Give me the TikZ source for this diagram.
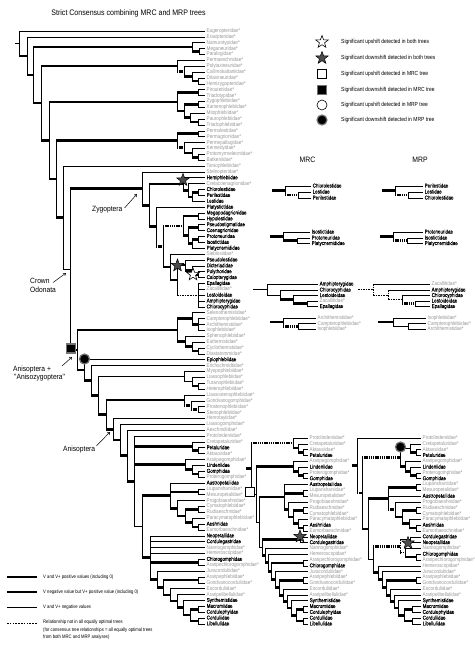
\documentclass[tikz,border=0pt]{standalone}
\usepackage{fontspec}
\setmainfont{Liberation Sans}
\newfontfamily\fA{Liberation Sans}[FakeStretch=0.84]
\newfontfamily\fAb{Liberation Sans}[FakeStretch=0.82,FakeBold=0.35]
\newfontfamily\fB{Liberation Sans}[FakeStretch=0.88]
\usetikzlibrary{shapes.geometric,arrows.meta}
\definecolor{fossil}{gray}{0.6}
\tikzset{
 vl/.style={line width=0.45pt},
 vd/.style={line width=0.55pt,dash pattern=on 1.6pt off 1pt},
 tn/.style={line width=0.55pt},
 md/.style={line width=1.3pt},
 tk/.style={line width=2.6pt},
 dk/.style={line width=2.6pt,dash pattern=on 1.3pt off 0.9pt},
 dn/.style={line width=0.6pt,dash pattern=on 1.6pt off 1pt},
 lab/.style={font={\fA\fontsize{5.5}{5.5}\selectfont},inner sep=0pt,anchor=west,text height=4pt,text depth=1pt},
 fos/.style={text=fossil},
 ext/.style={text=black,font={\fAb\fontsize{5.5}{5.5}\selectfont}},
 stf/.style={star,star points=5,star point ratio=2.4,minimum size=13pt,inner sep=0pt,draw=black,fill=black!70,line width=0.5pt},
 sto/.style={star,star points=5,star point ratio=2.4,minimum size=13pt,inner sep=0pt,draw=black,fill=white,line width=0.6pt},
 sqo/.style={rectangle,minimum size=9pt,inner sep=0pt,draw=black,fill=white,line width=0.6pt},
 sqf/.style={rectangle,minimum size=9pt,inner sep=0pt,draw=black!55,fill=black,line width=1.2pt},
 cio/.style={circle,minimum size=10pt,inner sep=0pt,draw=black,fill=white,line width=0.6pt},
 cif/.style={circle,minimum size=10pt,inner sep=0pt,draw=black!55,fill=black,line width=1.2pt},
 ann/.style={font={\fB\fontsize{7.6}{8.6}\selectfont},inner sep=0pt,align=left},
 arr/.style={line width=0.5pt,-{Straight Barb[length=2.2pt,width=3.2pt]}},
 lgt/.style={font={\fA\fontsize{5}{6.5}\selectfont},anchor=west,inner sep=0pt,align=left},
 tlt/.style={font={\fA\fontsize{5.9}{6}\selectfont},anchor=west,inner sep=0pt},
 hd/.style={font={\fB\fontsize{7.8}{8}\selectfont},inner sep=0pt},
}
\newcommand\Lf[5]{%
  \coordinate (#1) at (#2,-#3);%
  \expandafter\xdef\csname ty@#1\endcsname{#3}%
  \node[lab,#4] (#1t) at ([xshift=1.5pt]#1) {#5};}
\newcommand\ML[3]{\pgfmathsetmacro\yy{31+(#1-1)*5.87}\Lf{m#1}{205}{\yy}{#2}{#3}}
\newcommand\KL[3]{\pgfmathsetmacro\yy{438+(#1-1)*5.81}\Lf{k#1}{308}{\yy}{#2}{#3}}
\newcommand\RL[3]{\pgfmathsetmacro\yy{438+(#1-1)*5.81}\Lf{r#1}{421}{\yy}{#2}{#3}}
\newcommand\Nd[5][vl]{%
  \edef\ya{\csname ty@#4\endcsname}\edef\yb{\csname ty@#5\endcsname}%
  \pgfmathsetmacro\yy{(\ya+\yb)/2}%
  \expandafter\xdef\csname ty@#2\endcsname{\yy}%
  \coordinate (#2) at (#3,-\yy);%
  \draw[#1] (#2 |- #4) -- (#2 |- #5);}
\newcommand\Br[3]{\foreach \ch in {#3} {\draw[#1] (#2 |- \ch) -- (\ch);}}
\begin{document}
\begin{tikzpicture}[x=1pt,y=1pt]
\useasboundingbox (0,0) rectangle (474,-647);
\fill[white] (0,0) rectangle (474,-647);
\node[font={\fB\fontsize{8}{8}\selectfont},inner sep=0pt] (title) at (128.5,-13) {Strict Consensus combining MRC and MRP trees};
% ---------------- main tree leaves
\ML{1}{fos}{Eugeropteridae*}
\ML{2}{fos}{Erasipteridae*}
\ML{3}{fos}{Namurotypidae*}
\ML{4}{fos}{Meganeuridae*}
\ML{5}{fos}{Paralogidae*}
\ML{6}{fos}{Permaeschnidae*}
\ML{7}{fos}{Polytaxineuridae*}
\ML{8}{fos}{Callimokaltaniidae*}
\ML{9}{fos}{Ditaxineuridae*}
\ML{10}{fos}{Hemizygopteridae*}
\ML{11}{fos}{Piroutetiidae*}
\ML{12}{fos}{Triadotypidae*}
\ML{13}{fos}{Zygophlebiidae*}
\ML{14}{fos}{Xamenophlebiidae*}
\ML{15}{fos}{Mitophlebiidae*}
\ML{16}{fos}{Paurophlebiidae*}
\ML{17}{fos}{Triadophlebiidae*}
\ML{18}{fos}{Permolestidae*}
\ML{19}{fos}{Permagrionidae*}
\ML{20}{fos}{Permepallagidae*}
\ML{21}{fos}{Kennedyidae*}
\ML{22}{fos}{Protomyrmeleontidae*}
\ML{23}{fos}{Batkeniidae*}
\ML{24}{fos}{Tarsophlebiidae*}
\ML{25}{fos}{Steleopteridae*}
\ML{26}{ext}{Hemiphlebiidae}
\ML{27}{fos}{Cretacoenagrionidae*}
\ML{28}{ext}{Chlorolestidae}
\ML{29}{ext}{Perilestidae}
\ML{30}{ext}{Lestidae}
\ML{31}{ext}{Platystictidae}
\ML{32}{ext}{Megapodagrionidae}
\ML{33}{ext}{Hypolestidae}
\ML{34}{ext}{Pseudostigmatidae}
\ML{35}{ext}{Coenagrionidae}
\ML{36}{ext}{Protoneuridae}
\ML{37}{ext}{Isostictidae}
\ML{38}{ext}{Platycnemididae}
\ML{39}{fos}{Sieblosiidae*}
\ML{40}{ext}{Pseudolestidae}
\ML{41}{ext}{Dicteriadidae}
\ML{42}{ext}{Polythoridae}
\ML{43}{ext}{Calopterygidae}
\ML{44}{ext}{Epallagidae}
\ML{45}{fos}{Zacallitidae*}
\ML{46}{ext}{Lestoideidae}
\ML{47}{ext}{Amphipterygidae}
\ML{48}{ext}{Chlorocyphidae}
\ML{49}{fos}{Selenothemistidae*}
\ML{50}{fos}{Campterophlebiidae*}
\ML{51}{fos}{Archithemistidae*}
\ML{52}{fos}{Isophlebiidae*}
\ML{53}{fos}{Sphenophlebiidae*}
\ML{54}{fos}{Euthemistidae*}
\ML{55}{fos}{Cyclothemistidae*}
\ML{56}{fos}{Diastatommidae*}
\ML{57}{ext}{Epiophlebiidae}
\ML{58}{fos}{Erichschmidtidae*}
\ML{59}{fos}{Myopophlebiidae*}
\ML{60}{fos}{Liassophlebiidae*}
\ML{61}{fos}{Turanophlebiidae*}
\ML{62}{fos}{Heterophlebiidae*}
\ML{63}{fos}{Liassostenophlebiidae*}
\ML{64}{fos}{Gondvanogomphidae*}
\ML{65}{fos}{Prostenophlebiidae*}
\ML{66}{fos}{Stenophlebiidae*}
\ML{67}{fos}{Henrotayiidae*}
\ML{68}{fos}{Liassogomphidae*}
\ML{69}{fos}{Aeschnidiidae*}
\ML{70}{fos}{Protolindeniidae*}
\ML{71}{fos}{Cretapetaluridae*}
\ML{72}{ext}{Petaluridae}
\ML{73}{fos}{Aktassiidae*}
\ML{74}{fos}{Araripegomphidae*}
\ML{75}{ext}{Lindeniidae}
\ML{76}{ext}{Gomphidae}
\ML{77}{fos}{Proterogomphidae*}
\ML{78}{ext}{Austropetaliidae}
\ML{79}{fos}{Liupanshaniidae*}
\ML{80}{fos}{Mesuropetalidae*}
\ML{81}{fos}{Progobiaeshnidae*}
\ML{82}{fos}{Cymatophlebiidae*}
\ML{83}{fos}{Rudiaeschnidae*}
\ML{84}{fos}{Paracymatophlebiidae*}
\ML{85}{ext}{Aeshnidae}
\ML{86}{fos}{Eumorbaeschnidae*}
\ML{87}{ext}{Neopetaliidae}
\ML{88}{ext}{Cordulegastridae}
\ML{89}{fos}{Nannogomphidae*}
\ML{90}{fos}{Hemeroscopidae*}
\ML{91}{ext}{Chlorogomphidae}
\ML{92}{fos}{Araripechlorogomphidae*}
\ML{93}{fos}{Juracorduliidae*}
\ML{94}{fos}{Araripephlebiidae*}
\ML{95}{fos}{Gondvanocorduliidae*}
\ML{96}{fos}{Eocorduliidae*}
\ML{97}{fos}{Araripelibellulidae*}
\ML{98}{ext}{Synthemistidae}
\ML{99}{ext}{Macromiidae}
\ML{100}{ext}{Cordulephyidae}
\ML{101}{ext}{Corduliidae}
\ML{102}{ext}{Libellulidae}
% ---------------- main tree internal nodes
\Nd{nmp}{199}{m4}{m5} \Br{tn}{nmp}{m4,m5}
\Nd{cnam}{192}{m3}{nmp} \Br{tn}{cnam}{m3} \Br{tk}{cnam}{nmp}
\Nd{np4}{198}{m9}{m10} \Br{tn}{np4}{m9,m10}
\Nd{np3}{192}{m8}{np4} \Br{tn}{np3}{m8} \Br{tk}{np3}{np4}
\Nd{np2}{184}{m7}{np3} \Br{tn}{np2}{m7} \Br{tk}{np2}{np3}
\Nd{cperm}{177}{m6}{np2} \Br{tn}{cperm}{m6} \Br{dk}{cperm}{np2}
\Nd{nt1}{198}{m11}{m12} \Br{tn}{nt1}{m11,m12}
\Nd{nzx}{198}{m13}{m14} \Br{tn}{nzx}{m13,m14}
\Nd{npt}{198}{m16}{m17} \Br{tn}{npt}{m16,m17}
\Nd{nt3}{190}{m15}{npt} \Br{tn}{nt3}{m15} \Br{tk}{nt3}{npt}
\Nd{nt2}{184}{nzx}{nt3} \Br{tk}{nt2}{nzx,nt3}
\Nd{ctri}{177}{nt1}{nt2} \Br{tk}{ctri}{nt1,nt2}
\Nd{npm1}{198}{m18}{m19} \Br{tn}{npm1}{m18,m19}
\Nd{npm4}{198}{m22}{m23} \Br{tn}{npm4}{m22,m23}
\Nd{npm3}{192}{m21}{npm4} \Br{tn}{npm3}{m21} \Br{tk}{npm3}{npm4}
\Nd{npm2}{184}{m20}{npm3} \Br{tn}{npm2}{m20} \Br{tk}{npm2}{npm3}
\Nd{cpermo}{177}{npm1}{npm2} \Br{tk}{cpermo}{npm1} \Br{dk}{cpermo}{npm2}
% Zygoptera
\Nd{ncp}{198}{m28}{m29} \Br{tn}{ncp}{m28,m29}
\Nd{nzc}{192}{ncp}{m30} \Br{tk}{nzc}{ncp} \Br{tn}{nzc}{m30}
\Nd{nzb}{188}{m27}{nzc} \Br{tn}{nzb}{m27} \Br{tk}{nzb}{nzc}
\Nd{nza}{183}{m26}{nzb} \Br{tn}{nza}{m26} \Br{tk}{nza}{nzb}
\Nd{nmh}{198}{m32}{m33} \Br{tn}{nmh}{m32,m33}
\Nd{npc}{198}{m34}{m35} \Br{tn}{npc}{m34,m35}
\Nd{npi}{198}{m36}{m37} \Br{tn}{npi}{m36,m37}
\Nd{nzg}{192}{npi}{m38} \Br{tk}{nzg}{npi} \Br{tn}{nzg}{m38}
\Nd{nzf}{188}{npc}{nzg} \Br{tk}{nzf}{npc,nzg}
\Nd{nzd}{183}{nmh}{nzf} \Br{tk}{nzd}{nmh,nzf}
\Nd{nzk}{198}{m42}{m43} \Br{tn}{nzk}{m42,m43}
\Nd{nzj}{192}{m41}{nzk} \Br{tn}{nzj}{m41} \Br{tk}{nzj}{nzk}
\Nd{nzi}{185}{m40}{nzj} \Br{tn}{nzi}{m40} \Br{tk}{nzi}{nzj}
\Nd{nep}{198}{m44}{m48} \Br{tn}{nep}{m44,m45,m46,m47,m48}
\Nd{nzh}{177}{nzi}{nep} \Br{tk}{nzh}{nzi} \Br{dn}{nzh}{nep}
\Nd{nze}{170}{m39}{nzh} \Br{tn}{nze}{m39} \Br{tk}{nze}{nzh}
\Nd{nz3}{163}{nzd}{nze} \Br{dk}{nz3}{nzd} \Br{tk}{nz3}{nze}
\Nd{nz2}{156}{m31}{nz3} \Br{tn}{nz2}{m31} \Br{dk}{nz2}{nz3}
\Nd{nz}{149}{nza}{nz2} \Br{tk}{nz}{nza,nz2}
\Nd{nzs}{142}{m25}{nz} \Br{tn}{nzs}{m25} \Br{tk}{nzs}{nz}
% Isophlebioids
\Nd{nisb}{198}{m50}{m52} \Br{tn}{nisb}{m50,m51,m52}
\Nd{nisa}{192}{m49}{nisb} \Br{tn}{nisa}{m49} \Br{tk}{nisa}{nisb}
\Nd{nspc}{198}{m55}{m56} \Br{tn}{nspc}{m55,m56}
\Nd{nspb}{192}{m54}{nspc} \Br{tn}{nspb}{m54} \Br{tk}{nspb}{nspc}
\Nd{nspa}{185}{m53}{nspb} \Br{tn}{nspa}{m53} \Br{tk}{nspa}{nspb}
\Nd{ciso}{177}{nisa}{nspa} \Br{tk}{ciso}{nisa,nspa}
% Heterophlebioids / Stenophlebioids
\Nd{nh3}{198}{m61}{m62} \Br{tn}{nh3}{m61,m62}
\Nd{nh2}{192}{m60}{nh3} \Br{tn}{nh2}{m60} \Br{tk}{nh2}{nh3}
\Nd{chet}{184}{m59}{nh2} \Br{tn}{chet}{m59,nh2}
\Nd{ns3}{198}{m65}{m66} \Br{tn}{ns3}{m65,m66}
\Nd{ns2}{191}{m64}{ns3} \Br{tn}{ns2}{m64} \Br{dk}{ns2}{ns3}
\Nd{csten}{184}{m63}{ns2} \Br{tn}{csten}{m63} \Br{dk}{csten}{ns2}
% Anisoptera
\Nd{npa}{198}{m72}{m73} \Br{tn}{npa}{m72,m73}
\Nd{cpet}{192}{m71}{npa} \Br{tn}{cpet}{m71} \Br{tk}{cpet}{npa}
\Nd{ng3}{198}{m76}{m77} \Br{tn}{ng3}{m76,m77}
\Nd{ng2}{192}{m75}{ng3} \Br{tn}{ng2}{m75} \Br{tk}{ng2}{ng3}
\Nd{cgom}{185}{m74}{ng2} \Br{tn}{cgom}{m74} \Br{tk}{cgom}{ng2}
\Nd{nlm}{198}{m79}{m80} \Br{tn}{nlm}{m79,m80}
\Nd{ncr}{198}{m82}{m83} \Br{tn}{ncr}{m82,m83}
\Nd{na4}{198}{m85}{m86} \Br{tn}{na4}{m85,m86}
\Nd{na3}{192}{m84}{na4} \Br{tn}{na3}{m84} \Br{tk}{na3}{na4}
\Nd{na2}{185}{ncr}{na3} \Br{tk}{na2}{ncr,na3}
\Nd{naesh}{177}{m81}{na2} \Br{tn}{naesh}{m81} \Br{tk}{naesh}{na2}
\Nd{caus}{170}{m78}{naesh} \Br{tn}{caus}{m78} \Br{tk}{caus}{nlm,naesh}
\Nd{nchl}{198}{m91}{m92} \Br{tn}{nchl}{m91,m92}
\Nd{nag}{198}{m94}{m95} \Br{tn}{nag}{m94,m95}
\Nd{nmc}{198}{m99}{m100} \Br{tn}{nmc}{m99,m100}
\Nd{ncl}{198}{m101}{m102} \Br{tn}{ncl}{m101,m102}
\Nd{nl6}{190}{nmc}{ncl} \Br{tk}{nl6}{nmc,ncl}
\Nd{nl5}{183}{m98}{nl6} \Br{tn}{nl5}{m98} \Br{tk}{nl5}{nl6}
\Nd{nl4}{177}{m97}{nl5} \Br{tn}{nl4}{m97} \Br{tk}{nl4}{nl5}
\Nd{nl3}{170}{m96}{nl4} \Br{tn}{nl3}{m96} \Br{tk}{nl3}{nl4}
\Nd{nl2}{163}{nag}{nl3} \Br{tk}{nl2}{nag,nl3}
\Nd{nl1}{157}{m93}{nl2} \Br{tn}{nl1}{m93} \Br{tk}{nl1}{nl2}
\Nd{nl0}{150}{m87}{nl1} \Br{tn}{nl0}{m87,m88,m89,m90} \Br{tk}{nl0}{nchl,nl1}
\Nd{nrest}{142}{caus}{nl0} \Br{tk}{nrest}{caus,nl0}
\Nd{n16}{134}{m70}{nrest} \Br{tn}{n16}{m70,nrest} \Br{tk}{n16}{cpet,cgom}
\Nd{n15}{127}{m69}{n16} \Br{tn}{n15}{m69} \Br{tk}{n15}{n16}
\Nd{n14}{120}{m68}{n15} \Br{tn}{n14}{m68} \Br{tk}{n14}{n15}
\Nd{n13}{113}{m67}{n14} \Br{tn}{n13}{m67} \Br{tk}{n13}{n14}
\Nd{n12}{106}{csten}{n13} \Br{tk}{n12}{csten,n13}
\Nd{n11}{98}{chet}{n12} \Br{tn}{n11}{chet} \Br{tk}{n11}{n12}
\Nd{n10}{91}{m58}{n11} \Br{tn}{n10}{m58} \Br{tk}{n10}{n11}
\Nd{n9}{84}{m57}{n10} \Br{tn}{n9}{m57} \Br{tk}{n9}{n10}
\Nd{n8}{77}{ciso}{n9} \Br{tk}{n8}{ciso,n9}
\Nd{n7}{70}{nzs}{n8} \Br{tk}{n7}{nzs,n8}
\Nd{n6}{63}{m24}{n7} \Br{tn}{n6}{m24,n7}
\Nd{n5}{56}{cpermo}{n6} \Br{tk}{n5}{cpermo,n6}
\Nd{n4}{49}{ctri}{n5} \Br{tk}{n4}{ctri,n5}
\Nd{n3}{41}{cperm}{n4} \Br{tk}{n3}{cperm,n4}
\Nd{n2}{33}{cnam}{n3} \Br{tk}{n2}{cnam,n3}
\Nd{n1}{27}{m2}{n2} \Br{tn}{n1}{m2} \Br{tk}{n1}{n2}
\Nd{r0}{19}{m1}{n1} \Br{tn}{r0}{m1} \Br{tk}{r0}{n1}
\coordinate (r0s) at ([xshift=-4pt]r0); \draw[tn] (r0s) -- (r0);
% markers on main tree
\node[stf] (mk1) at (183,-180) {};
\node[stf] (mk2) at (177.5,-265.5) {};
\node[sto] (mk3) at (193,-274.5) {};
\node[sqf] (mk4) at (71,-348.5) {};
\node[cif] (mk5) at (84.5,-359) {};
% annotations
\node[ann,anchor=west] (zyg) at (92,-210) {Zygoptera};
\coordinate (zygtip) at (137,-194);
\draw[arr] ([xshift=2pt,yshift=2pt]zyg.east) -- (zygtip);
\node[ann,anchor=west] (crown) at (30,-285.5) {Crown\\Odonata};
\coordinate (crowntip) at (66,-273);
\draw[arr] ([xshift=-3pt,yshift=3pt]crown.east) -- (crowntip);
\node[ann,anchor=west] (anz) at (13,-373.5) {Anisoptera +\\\hspace*{1pt}"Anisozygoptera"};
\coordinate (anztip) at (72,-357);
\coordinate (anzfoot) at (62,-366);
\draw[arr] (anzfoot) -- (anztip);
\node[ann,anchor=west] (anis) at (63,-450) {Anisoptera};
\coordinate (anistip) at (110,-432);
\draw[arr] ([xshift=1pt,yshift=4pt]anis.east) -- (anistip);
% ---------------- legend top right
\node[sto] (lg1) at (322,-42) {}; \node[tlt] (lg1t) at (341,-42) {Significant upshift detected in both trees};
\node[stf] (lg2) at (322,-58) {}; \node[tlt] (lg2t) at (341,-58) {Significant downshift detected in both trees};
\node[sqo] (lg3) at (322,-73.5) {}; \node[tlt] (lg3t) at (341,-73.5) {Significant upshift detected in MRC tree};
\node[sqf] (lg4) at (322,-90) {}; \node[tlt] (lg4t) at (341,-90) {Significant downshift detected in MRC tree};
\node[cio] (lg5) at (322,-105) {}; \node[tlt] (lg5t) at (341,-105) {Significant upshift detected in MRP tree};
\node[cif] (lg6) at (322,-120) {}; \node[tlt] (lg6t) at (341,-120) {Significant downshift detected in MRP tree};
% ---------------- legend bottom left
\coordinate (la1) at (7,-577); \coordinate (lb1) at (37,-577); \draw[tk] (la1) -- (lb1);
\node[lgt] (lt1) at (43,-577) {V and V+ positive values (including 0)};
\coordinate (la2) at (7,-592); \coordinate (lb2) at (37,-592); \draw[md] (la2) -- (lb2);
\node[lgt] (lt2) at (43,-592) {V negative value but V+ positive value (including 0)};
\coordinate (la3) at (7,-607); \coordinate (lb3) at (37,-607); \draw[tn] (la3) -- (lb3);
\node[lgt] (lt3) at (43,-607) {V and V+ negative values};
\coordinate (la4) at (7,-623); \coordinate (lb4) at (37,-623); \draw[line width=0.8pt,dash pattern=on 1.6pt off 1.2pt] (la4) -- (lb4);
\node[lgt,anchor=north west] (lt4) at (43,-620) {Relationship not in all equally optimal trees\\[1.6pt](for consensus tree relationships = all equally optimal trees\\from both MRC and MRP analyses)};
% ---------------- headings of alternative topologies
\node[hd] (hmrc) at (307.5,-160) {MRC};
\node[hd] (hmrp) at (420,-160) {MRP};
% inset 1
\Lf{ia11}{311}{186}{ext}{Chlorolestidae}
\Lf{ia12}{311}{192}{ext}{Lestidae}
\Lf{ia13}{311}{198}{ext}{Perilestidae}
\Nd{ia1p}{298}{ia12}{ia13} \Br{tn}{ia1p}{ia12,ia13}
\Nd{ia1}{285}{ia11}{ia1p} \Br{tn}{ia1}{ia11} \Br{dk}{ia1}{ia1p}
\coordinate (ia1s) at ([xshift=-13pt]ia1); \draw[tk] (ia1s) -- (ia1);
\Lf{ib11}{423}{186}{ext}{Perilestidae}
\Lf{ib12}{423}{192}{ext}{Lestidae}
\Lf{ib13}{423}{198}{ext}{Chlorolestidae}
\Nd{ib1p}{408}{ib12}{ib13} \Br{tn}{ib1p}{ib12,ib13}
\Nd{ib1}{395}{ib11}{ib1p} \Br{tn}{ib1}{ib11} \Br{dk}{ib1}{ib1p}
\coordinate (ib1s) at ([xshift=-13pt]ib1); \draw[tk] (ib1s) -- (ib1);
% inset 2
\Lf{ia21}{310}{232}{ext}{Isostictidae}
\Lf{ia22}{310}{238}{ext}{Protoneuridae}
\Lf{ia23}{310}{243.5}{ext}{Platycnemididae}
\Nd{ia2p}{297}{ia22}{ia23} \Br{tn}{ia2p}{ia22,ia23}
\Nd{ia2}{283}{ia21}{ia2p} \Br{tn}{ia2}{ia21} \Br{tk}{ia2}{ia2p}
\coordinate (ia2s) at ([xshift=-13pt]ia2); \draw[tk] (ia2s) -- (ia2);
\Lf{ib21}{423}{232}{ext}{Protoneuridae}
\Lf{ib22}{423}{238}{ext}{Isostictidae}
\Lf{ib23}{423}{243.5}{ext}{Platycnemididae}
\Nd{ib2p}{407}{ib22}{ib23} \Br{tn}{ib2p}{ib22,ib23}
\Nd{ib2}{393}{ib21}{ib2p} \Br{tn}{ib2}{ib21} \Br{dk}{ib2}{ib2p}
\coordinate (ib2s) at ([xshift=-13pt]ib2); \draw[tk] (ib2s) -- (ib2);
% inset 3
\Lf{ia31}{318}{284}{ext}{Amphipterygidae}
\Lf{ia32}{318}{290}{ext}{Chlorocyphidae}
\Lf{ia33}{318}{295.5}{ext}{Lestoideidae}
\Lf{ia34}{318}{301}{fos}{Zacallitidae*}
\Lf{ia35}{318}{306.5}{ext}{Epallagidae}
\Nd{ia3d}{307}{ia34}{ia35} \Br{tn}{ia3d}{ia34,ia35}
\Nd{ia3c}{293}{ia33}{ia3d} \Br{tn}{ia3c}{ia33} \Br{tk}{ia3c}{ia3d}
\Nd{ia3b}{280}{ia32}{ia3c} \Br{tn}{ia3b}{ia32} \Br{tk}{ia3b}{ia3c}
\Nd{ia3a}{267}{ia31}{ia3b} \Br{tn}{ia3a}{ia31,ia3b}
\coordinate (ia3s) at ([xshift=-14pt]ia3a); \draw[tn] (ia3s) -- (ia3a);
\Lf{ib31}{430}{284}{fos}{Zacallitidae*}
\Lf{ib32}{430}{290}{ext}{Amphipterygidae}
\Lf{ib33}{430}{295.5}{ext}{Chlorocyphidae}
\Lf{ib34}{430}{301}{ext}{Lestoideidae}
\Lf{ib35}{430}{306.5}{ext}{Epallagidae}
\Nd{ib3d}{415}{ib34}{ib35} \Br{tn}{ib3d}{ib34,ib35}
\Nd{ib3c}{402}{ib33}{ib3d} \Br{tn}{ib3c}{ib33} \Br{dk}{ib3c}{ib3d}
\Nd[vd]{ib3b}{388}{ib32}{ib3c} \Br{tn}{ib3b}{ib32} \Br{dn}{ib3b}{ib3c}
\Nd[vd]{ib3a}{373}{ib31}{ib3b} \Br{tn}{ib3a}{ib31} \Br{dn}{ib3a}{ib3b}
\coordinate (ib3s) at ([xshift=-15pt]ib3a); \draw[dn] (ib3s) -- (ib3a);
% inset 4
\Lf{ia41}{316}{318}{fos}{Archithemistidae*}
\Lf{ia42}{316}{323.5}{fos}{Campterophlebiidae*}
\Lf{ia43}{316}{329}{fos}{Isophlebiidae*}
\Nd{ia4p}{298}{ia42}{ia43} \Br{tn}{ia4p}{ia42,ia43}
\Nd{ia4}{283}{ia41}{ia4p} \Br{tn}{ia4}{ia41} \Br{dk}{ia4}{ia4p}
\coordinate (ia4s) at ([xshift=-13pt]ia4); \draw[tk] (ia4s) -- (ia4);
\Lf{ib41}{426}{318}{fos}{Isophlebiidae*}
\Lf{ib42}{426}{323.5}{fos}{Campterophlebiidae*}
\Lf{ib43}{426}{329}{fos}{Archithemistidae*}
\Nd{ib4p}{408}{ib42}{ib43} \Br{tn}{ib4p}{ib42,ib43}
\Nd{ib4}{393}{ib41}{ib4p} \Br{tn}{ib4}{ib41,ib4p}
\coordinate (ib4s) at ([xshift=-15pt]ib4); \draw[tk] (ib4s) -- (ib4);
% ---------------- bottom MRC tree
\KL{1}{fos}{Protolindeniidae*}
\KL{2}{fos}{Cretapetaluridae*}
\KL{3}{fos}{Aktassiidae*}
\KL{4}{ext}{Petaluridae}
\KL{5}{fos}{Araripegomphidae*}
\KL{6}{ext}{Lindeniidae}
\KL{7}{fos}{Proterogomphidae*}
\KL{8}{ext}{Gomphidae}
\KL{9}{ext}{Austropetaliidae}
\KL{10}{fos}{Liupanshaniidae*}
\KL{11}{fos}{Mesuropetalidae*}
\KL{12}{fos}{Progobiaeshnidae*}
\KL{13}{fos}{Rudiaeschnidae*}
\KL{14}{fos}{Cymatophlebiidae*}
\KL{15}{fos}{Paracymatophlebiidae*}
\KL{16}{ext}{Aeshnidae}
\KL{17}{fos}{Eumorbaeschnidae*}
\KL{18}{ext}{Neopetaliidae}
\KL{19}{ext}{Cordulegastridae}
\KL{20}{fos}{Nannogomphidae*}
\KL{21}{fos}{Hemeroscopidae*}
\KL{22}{fos}{Araripechlorogomphidae*}
\KL{23}{ext}{Chlorogomphidae}
\KL{24}{fos}{Juracorduliidae*}
\KL{25}{fos}{Araripephlebiidae*}
\KL{26}{fos}{Gondvanocorduliidae*}
\KL{27}{fos}{Eocorduliidae*}
\KL{28}{fos}{Araripelibellulidae*}
\KL{29}{ext}{Synthemistidae}
\KL{30}{ext}{Macromiidae}
\KL{31}{ext}{Cordulephyidae}
\KL{32}{ext}{Corduliidae}
\KL{33}{ext}{Libellulidae}
\Nd{kP3}{303}{k3}{k4} \Br{tn}{kP3}{k3,k4}
\Nd{kP2}{298}{k2}{kP3} \Br{tn}{kP2}{k2} \Br{tk}{kP2}{kP3}
\Nd{kP1}{293}{k1}{kP2} \Br{tn}{kP1}{k1} \Br{tk}{kP1}{kP2}
\Nd{kG3}{303}{k7}{k8} \Br{tn}{kG3}{k7,k8}
\Nd{kG2}{298}{k6}{kG3} \Br{tn}{kG2}{k6} \Br{tk}{kG2}{kG3}
\Nd{kG}{293}{k5}{kG2} \Br{tn}{kG}{k5} \Br{tk}{kG}{kG2}
\Nd{kAlm}{303}{k10}{k11} \Br{tn}{kAlm}{k10,k11}
\Nd{kAcr}{303}{k13}{k14} \Br{tn}{kAcr}{k13,k14}
\Nd{kA5}{303}{k16}{k17} \Br{tn}{kA5}{k16,k17}
\Nd{kA4}{298}{k15}{kA5} \Br{tn}{kA4}{k15} \Br{tk}{kA4}{kA5}
\Nd{kA3}{293}{kAcr}{kA4} \Br{tk}{kA3}{kAcr,kA4}
\Nd{kA2}{288}{k12}{kA3} \Br{tn}{kA2}{k12} \Br{tk}{kA2}{kA3}
\Nd{kA1}{284}{k9}{kA2} \Br{tn}{kA1}{k9} \Br{tk}{kA1}{kAlm,kA2}
\Nd{kNs}{300}{k18}{k19} \Br{tn}{kNs}{k18,k19}
\Nd{kChl}{303}{k22}{k23} \Br{tn}{kChl}{k22,k23}
\Nd{kAg}{303}{k25}{k26} \Br{tn}{kAg}{k25,k26}
\Nd{kMC}{303}{k30}{k31} \Br{tn}{kMC}{k30,k31}
\Nd{kCL}{303}{k32}{k33} \Br{tn}{kCL}{k32,k33}
\Nd{kM13}{296}{kMC}{kCL} \Br{tk}{kM13}{kMC,kCL}
\Nd{kM12}{291}{k29}{kM13} \Br{tn}{kM12}{k29} \Br{tk}{kM12}{kM13}
\Nd{kM11}{287}{k28}{kM12} \Br{tn}{kM11}{k28} \Br{tk}{kM11}{kM12}
\Nd{kM10}{283}{k27}{kM11} \Br{tn}{kM10}{k27} \Br{tk}{kM10}{kM11}
\Nd{kM9}{279}{kAg}{kM10} \Br{tk}{kM9}{kAg,kM10}
\Nd{kM8}{275}{k24}{kM9} \Br{tn}{kM8}{k24} \Br{tk}{kM8}{kM9}
\Nd{kM7}{271}{kChl}{kM8} \Br{tk}{kM7}{kChl,kM8}
\Nd{kM6}{268}{k21}{kM7} \Br{tn}{kM6}{k21} \Br{tk}{kM6}{kM7}
\Nd{kM5}{265}{k20}{kM6} \Br{tn}{kM5}{k20} \Br{tk}{kM5}{kM6}
\Nd{kM4}{262}{kNs}{kM5} \Br{tk}{kM4}{kNs,kM5}
\Nd{kM3}{259}{kA1}{kM4} \Br{tk}{kM3}{kA1} \Br{tn}{kM3}{kM4}
\Nd{kM2}{256}{kG}{kM3} \Br{tk}{kM2}{kG} \Br{tn}{kM2}{kM3}
\Nd{kR}{251}{kP1}{kM2} \Br{dk}{kR}{kP1} \Br{tn}{kR}{kM2}
\coordinate (kRs) at ([xshift=-5pt]kR); \draw[tk] (kRs) -- (kR);
\node[sqo] (mk6) at (250,-492) {};
\node[stf] (mk7) at (300,-536.5) {};
% ---------------- bottom MRP tree
\RL{1}{fos}{Protolindeniidae*}
\RL{2}{fos}{Cretapetaluridae*}
\RL{3}{fos}{Aktassiidae*}
\RL{4}{ext}{Petaluridae}
\RL{5}{fos}{Araripegomphidae*}
\RL{6}{ext}{Lindeniidae}
\RL{7}{fos}{Proterogomphidae*}
\RL{8}{ext}{Gomphidae}
\RL{9}{fos}{Liupanshaniidae*}
\RL{10}{fos}{Mesuropetalidae*}
\RL{11}{ext}{Austropetaliidae}
\RL{12}{fos}{Progobiaeshnidae*}
\RL{13}{fos}{Rudiaeschnidae*}
\RL{14}{fos}{Cymatophlebiidae*}
\RL{15}{fos}{Paracymatophlebiidae*}
\RL{16}{ext}{Aeshnidae}
\RL{17}{fos}{Eumorbaeschnidae*}
\RL{18}{ext}{Cordulegastridae}
\RL{19}{ext}{Neopetaliidae}
\RL{20}{fos}{Nannogomphidae*}
\RL{21}{ext}{Chlorogomphidae}
\RL{22}{fos}{Araripechlorogomphidae*}
\RL{23}{fos}{Hemeroscopidae*}
\RL{24}{fos}{Juracorduliidae*}
\RL{25}{fos}{Araripephlebiidae*}
\RL{26}{fos}{Gondvanocorduliidae*}
\RL{27}{fos}{Eocorduliidae*}
\RL{28}{fos}{Araripelibellulidae*}
\RL{29}{ext}{Synthemistidae}
\RL{30}{ext}{Macromiidae}
\RL{31}{ext}{Cordulephyidae}
\RL{32}{ext}{Corduliidae}
\RL{33}{ext}{Libellulidae}
\Nd{rP2}{416}{r3}{r4} \Br{tn}{rP2}{r3,r4}
\Nd{rP}{410}{r2}{rP2} \Br{tn}{rP}{r2} \Br{tk}{rP}{rP2}
\Nd{rG3}{416}{r7}{r8} \Br{tn}{rG3}{r7,r8}
\Nd{rG2}{410}{r6}{rG3} \Br{tn}{rG2}{r6} \Br{tk}{rG2}{rG3}
\Nd{rG}{405}{r5}{rG2} \Br{tn}{rG}{r5} \Br{tk}{rG}{rG2}
\Nd{r3n}{400}{rP}{rG} \Br{tn}{r3n}{rP} \Br{tk}{r3n}{rG}
\Nd{rlm}{416}{r9}{r10} \Br{tn}{rlm}{r9,r10}
\Nd{rcr}{416}{r13}{r14} \Br{tn}{rcr}{r13,r14}
\Nd{ra4}{416}{r16}{r17} \Br{tn}{ra4}{r16,r17}
\Nd{ra3}{409}{r15}{ra4} \Br{tn}{ra3}{r15} \Br{tk}{ra3}{ra4}
\Nd{ra2}{402}{rcr}{ra3} \Br{tk}{ra2}{rcr,ra3}
\Nd{ra}{395}{r12}{ra2} \Br{tn}{ra}{r12} \Br{tk}{ra}{ra2}
\Nd{raus}{388}{rlm}{ra} \Br{tk}{raus}{rlm} \Br{tn}{raus}{r11} \Br{dk}{raus}{ra}
\Nd{rcn}{410}{r18}{r19} \Br{tn}{rcn}{r18,r19}
\Nd{rch}{416}{r21}{r22} \Br{tn}{rch}{r21,r22}
\Nd{rs2}{405}{r20}{rch} \Br{tn}{rs2}{r20} \Br{tk}{rs2}{rch}
\Nd[vd]{rs}{400}{rcn}{rs2} \Br{tn}{rs}{rcn} \Br{dn}{rs}{rs2}
\Nd{rag}{416}{r25}{r26} \Br{tn}{rag}{r25,r26}
\Nd{rmc}{412}{r30}{r31} \Br{tn}{rmc}{r30,r31}
\Nd{rcl}{412}{r32}{r33} \Br{tn}{rcl}{r32,r33}
\Nd{rc7}{404}{rmc}{rcl} \Br{tk}{rc7}{rmc,rcl}
\Nd{rc6}{398}{r29}{rc7} \Br{tn}{rc6}{r29} \Br{tk}{rc6}{rc7}
\Nd{rc5}{394}{r28}{rc6} \Br{tn}{rc5}{r28} \Br{tk}{rc5}{rc6}
\Nd{rc4}{390}{r27}{rc5} \Br{tn}{rc4}{r27} \Br{tk}{rc4}{rc5}
\Nd{rc3}{386}{rag}{rc4} \Br{tk}{rc3}{rag,rc4}
\Nd{rc2}{382}{r24}{rc3} \Br{tn}{rc2}{r24} \Br{tk}{rc2}{rc3}
\Nd{rc1}{378}{r23}{rc2} \Br{tn}{rc1}{r23} \Br{tk}{rc1}{rc2}
\Nd{r5n}{373}{rs}{rc1} \Br{dk}{r5n}{rs} \Br{tk}{r5n}{rc1}
\Nd{r4n}{368}{raus}{r5n} \Br{tk}{r4n}{raus} \Br{tn}{r4n}{r5n}
\Nd{r2n}{362}{r3n}{r4n} \Br{dk}{r2n}{r3n} \Br{tk}{r2n}{r4n}
\Nd{rR}{357}{r1}{r2n} \Br{tn}{rR}{r1} \Br{dk}{rR}{r2n}
\coordinate (rRs) at ([xshift=-5pt]rR); \draw[tk] (rRs) -- (rR);
\node[cif] (mk8) at (400.5,-447) {};
\node[stf] (mk9) at (408,-543) {};
\end{tikzpicture}
\end{document}
